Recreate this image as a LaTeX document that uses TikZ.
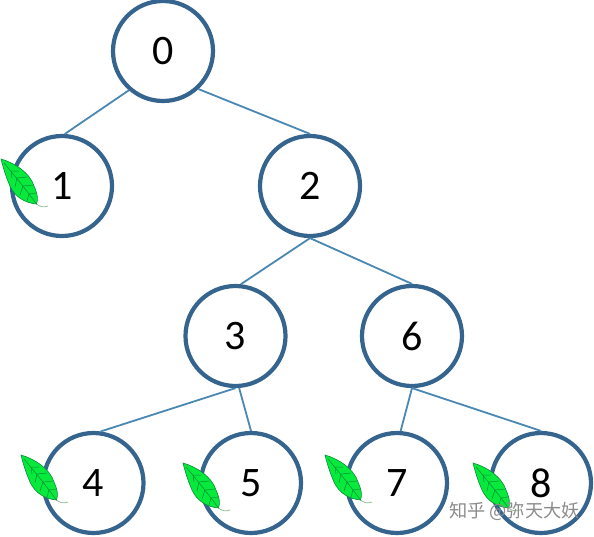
\documentclass[tikz,border=0pt]{standalone}
\usepackage{fontspec}
\setmainfont{Carlito}
\newfontfamily\cjkwm{Noto Sans CJK SC}
\tikzset{
  treenode/.style={circle,draw=nodeblue,line width=4.2pt,fill=white,minimum size=100pt,inner sep=0pt,font=\fontsize{42}{42}\selectfont,text=black},
  edgeline/.style={draw=edgeblue,line width=1.8pt},
  leaf/.pic={
    \draw[leafstem,line width=.8pt] (35.5,45) .. controls (39,48) and (43,48.5) .. (47,47);
    \draw[draw=leafdark,line width=.6pt,fill=leafgreen] (0,0) .. controls (14,4) and (29,14) .. (33,27) .. controls (37,36) and (37,41) .. (35.5,45) .. controls (24,44) and (14,38) .. (9,27) .. controls (5,18) and (2,8) .. (0,0) -- cycle;
    \draw[leafdark,line width=.5pt] (3,4) .. controls (14,17) and (26,32) .. (35.5,45);
    \draw[leafdark,line width=.5pt] (10,12) -- (11,19) (16,19) -- (14,28) (22,27) -- (19,36) (28,35) -- (26,42)
      (10,12) -- (18,12) (16,19) -- (26,18) (22,27) -- (32,26) (28,35) -- (35,34);
  }
}
\definecolor{nodeblue}{HTML}{35658F}
\definecolor{edgeblue}{HTML}{4A88B4}
\definecolor{leafgreen}{HTML}{06EA3C}
\definecolor{leafdark}{HTML}{0B8A38}
\definecolor{leafstem}{HTML}{8FBF9A}
\begin{document}
\begin{tikzpicture}[x=1pt,y=-1pt]
\useasboundingbox (0,0) rectangle (594,536);
\fill[white] (0,0) rectangle (594,536);
\node[treenode] (n0) at (163,51) {0};
\node[treenode] (n1) at (62,186) {1};
\node[treenode] (n2) at (310,186) {2};
\node[treenode] (n3) at (235.5,336) {3};
\node[treenode] (n6) at (412,336) {6};
\node[treenode] (n4) at (93.5,483) {4};
\node[treenode] (n5) at (251,483) {5};
\node[treenode] (n7) at (397,483) {7};
\node[treenode] (n8) at (541,483) {8};
\draw[edgeline] (n0.229) -- (n1.87);
\draw[edgeline] (n0.-47) -- (n2.90);
\draw[edgeline] (n2.-90) -- (n3.84);
\draw[edgeline] (n2.-90) -- (n6.90);
\draw[edgeline] (n3.-90) -- (n4.82);
\draw[edgeline] (n3.-86) -- (n5.90);
\draw[edgeline] (n6.-90) -- (n7.86);
\draw[edgeline] (n6.-90) -- (n8.90);
\pic at (1,159) {leaf};
\pic at (21,455) {leaf};
\pic at (183,463) {leaf};
\pic at (325,455) {leaf};
\pic at (473,463) {leaf};
\node[font=\cjkwm\fontsize{18.2}{19}\selectfont,text=black!45,inner sep=0pt] (wm) at (514.5,511) {知乎 @弥天大妖};
\end{tikzpicture}
\end{document}
